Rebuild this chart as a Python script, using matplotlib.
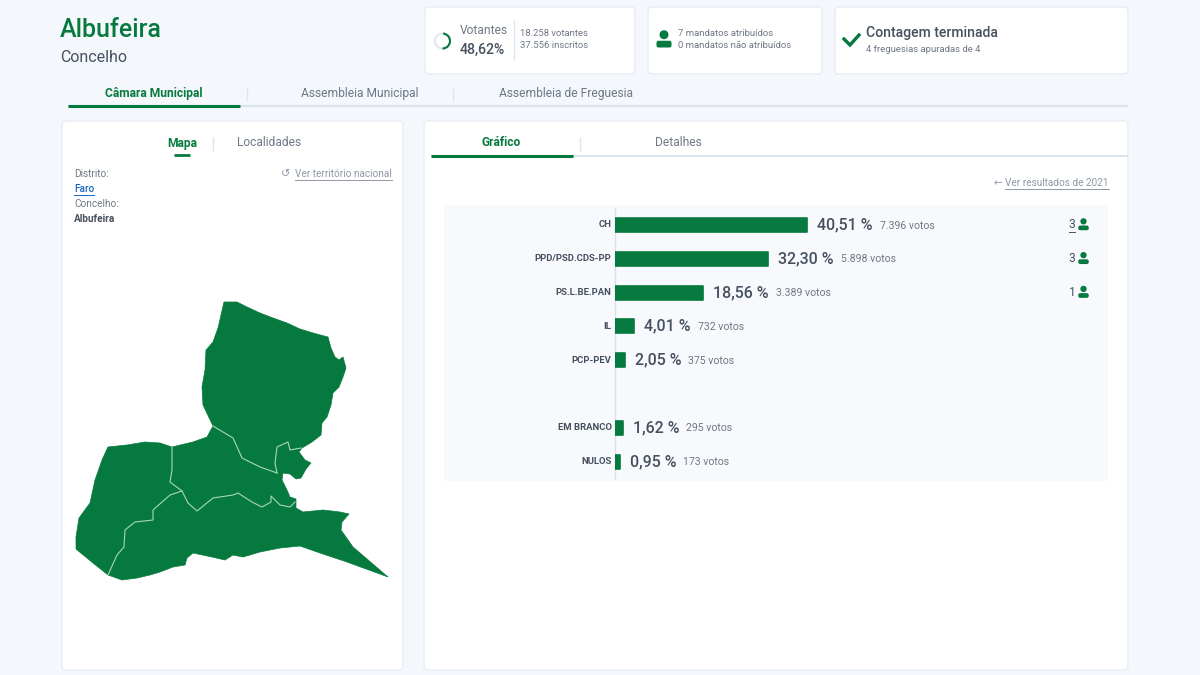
# Resultados autarquicos - Albufeira, dashboard view

import matplotlib
matplotlib.use('Agg')
import matplotlib.pyplot as plt
from matplotlib.patches import FancyBboxPatch, Polygon, Circle, Arc

plt.rcParams['font.family'] = ['Roboto', 'DejaVu Sans']

# ------------------------------------------------------------
# data
# ------------------------------------------------------------
parties = ['CH', 'PPD/PSD.CDS-PP', 'PS.L.BE.PAN', 'IL', 'PCP-PEV', 'EM BRANCO', 'NULOS']
rows = [0, 1, 2, 3, 4, 6, 7]
percents = [40.51, 32.30, 18.56, 4.01, 2.05, 1.62, 0.95]
percent_labels = ['40,51 %', '32,30 %', '18,56 %', '4,01 %', '2,05 %', '1,62 %', '0,95 %']
vote_labels = ['7.396 votos', '5.898 votos', '3.389 votos', '732 votos', '375 votos', '295 votos', '173 votos']
seats = [3, 3, 1]

# map outline and inner borders, in pixels of the picture
map_outline = [
    (224, 302), (237, 302), (247, 307), (260, 313), (273, 318), (287, 323), (300, 329),
    (313, 333), (328, 337), (331, 348), (335, 357), (339, 360), (343, 357), (346, 368),
    (343, 377), (339, 387), (333, 393), (331, 405), (327, 417), (322, 423), (321, 435),
    (312, 442), (302, 448), (299, 452), (305, 460), (311, 463), (306, 469), (301, 478),
    (296, 479), (290, 474), (283, 473), (282, 480), (287, 490), (290, 497), (296, 499),
    (296, 508), (303, 512), (323, 510), (340, 512), (349, 514), (342, 522), (341, 530),
    (353, 547), (388, 577), (347, 562), (320, 553), (300, 546), (280, 548), (260, 552),
    (243, 557), (233, 555), (225, 560), (212, 557), (193, 553), (187, 558), (185, 565),
    (173, 567), (160, 572), (150, 575), (137, 578), (122, 580), (108, 575), (93, 563),
    (76, 549), (76, 537), (79, 518), (90, 503), (95, 480), (102, 460), (108, 447),
    (127, 445), (145, 442), (160, 443), (172, 447), (193, 442), (207, 437), (213, 426),
    (203, 405), (202, 387), (205, 370), (206, 350), (213, 342), (218, 328),
]
border_a = [(213, 426), (223, 432), (233, 438), (242, 458), (260, 467), (277, 473)]
border_b = [(277, 473), (275, 463), (277, 447), (288, 442), (290, 450), (301, 448)]
border_c = [
    (172, 447), (172, 470), (170, 482), (182, 491), (188, 503), (197, 511), (213, 498),
    (233, 495), (238, 493), (252, 502), (262, 507), (271, 502), (271, 496), (280, 505),
    (290, 507), (295, 502),
]
border_d = [
    (182, 491), (170, 495), (153, 510), (153, 520), (135, 522), (125, 530), (124, 547),
    (117, 555), (108, 575),
]

GREEN = '#067a3e'
DARK = '#46505f'
GREY = '#6f7886'
LINE = '#dfe5ec'

# ------------------------------------------------------------
# page, in pixel coordinates
# ------------------------------------------------------------
fig = plt.figure(figsize=(12, 6.75), dpi=100, facecolor='#f4f8fc')
page = fig.add_axes([0, 0, 1, 1])
page.set_xlim(0, 1200)
page.set_ylim(675, 0)
page.axis('off')


def label(x, y, s, size, color=DARK, weight='normal', ha='left', underline=False):
    txt = page.text(x, y, s, fontsize=size * 0.72, color=color, fontweight=weight, ha=ha, va='center')
    if underline:
        box = txt.get_window_extent(fig.canvas.get_renderer())
        page.plot([box.x0, box.x1], [y + size * 0.58] * 2, color=color, lw=0.7)
    return txt


def card(x0, y0, x1, y1):
    page.add_patch(FancyBboxPatch((x0, y0), x1 - x0, y1 - y0, boxstyle='round,pad=0,rounding_size=4',
                                  fc='white', ec='#e8edf3', lw=1))


def rule(x0, y0, x1, y1, color=LINE, lw=1.0):
    page.plot([x0, x1], [y0, y1], color=color, lw=lw, solid_capstyle='butt')


def person(x, y, s=1.0):
    page.add_patch(Circle((x, y - 3.5 * s), 3 * s, fc=GREEN, ec='none'))
    page.add_patch(FancyBboxPatch((x - 5 * s, y + 0.5 * s), 10 * s, 4.5 * s,
                                  boxstyle='round,pad=0,rounding_size=2', fc=GREEN, ec='none'))


# header
label(60, 30, 'Albufeira', 25, GREEN, 'medium')
label(60, 58, 'Concelho', 16, DARK)

card(425, 7, 635, 74)
card(648, 7, 822, 74)
card(835, 7, 1128, 74)

page.add_patch(Circle((442.5, 41), 7.5, fc='none', ec='#e3e8ee', lw=1.5))
page.add_patch(Arc((442.5, 41), 15, 15, theta1=-85, theta2=90, color=GREEN, lw=1.5))
label(460, 31, 'Votantes', 12, GREY)
label(460, 50, '48,62%', 14, DARK, 'medium')
rule(513.5, 20, 513.5, 60)
label(520, 33, '18.258 votantes', 9.5, GREY)
label(520, 45, '37.556 inscritos', 9.5, GREY)

person(664, 40, 1.5)
label(678, 33, '7 mandatos atribuídos', 9.5, GREY)
label(678, 45, '0 mandatos não atribuídos', 9.5, GREY)

page.plot([844, 850, 859], [39, 45, 35], color=GREEN, lw=2.4, solid_joinstyle='miter')
label(866, 33, 'Contagem terminada', 14, DARK, 'medium')
label(866, 50, '4 freguesias apuradas de 4', 9.5, GREY)

# top tabs
rule(68, 105.5, 1128, 105.5, '#dde3ea', 1.6)
rule(68, 105.5, 240, 105.5, GREEN, 2.2)
rule(247, 87, 247, 101)
rule(453, 87, 453, 101)
label(153.5, 93, 'Câmara Municipal', 12, GREEN, 'bold', 'center')
label(359.5, 93, 'Assembleia Municipal', 12, GREY, ha='center')
label(566, 93, 'Assembleia de Freguesia', 12, GREY, ha='center')

# left panel
card(62, 121, 403, 670)
label(182, 143, 'Mapa', 12, GREEN, 'bold', 'center')
rule(174, 155, 190, 155, GREEN, 2)
rule(212.5, 137, 212.5, 151)
label(269.5, 143, 'Localidades', 12, GREY, ha='center')
label(74, 174, 'Distrito:', 10, GREY)
label(74, 189.5, 'Faro', 10, '#1a66c2', 'medium', underline=True)
label(74, 204, 'Concelho:', 10, GREY)
label(74, 219, 'Albufeira', 10, DARK, 'bold')
page.text(281, 174, '↺', fontsize=8, color='#8f98a5', ha='left', va='center', family='DejaVu Sans')
label(295, 174, 'Ver território nacional', 10, '#8f98a5', underline=True)

page.add_patch(Polygon(map_outline, closed=True, fc=GREEN, ec=GREEN, lw=0.5))
for border in [border_a, border_b, border_c, border_d]:
    page.plot([p[0] for p in border], [p[1] for p in border], color='#a9d6b6', lw=0.8)

# right panel
card(424, 121, 1128, 670)
rule(431, 155.5, 1128, 155.5, '#dde3ea', 1.4)
rule(431, 155.5, 573, 155.5, GREEN, 2.2)
rule(580, 137, 580, 151)
label(501.5, 143, 'Gráfico', 12, GREEN, 'bold', 'center')
label(678, 143, 'Detalhes', 12, GREY, ha='center')
page.text(994, 183.5, '←', fontsize=7.5, color='#8f98a5', ha='left', va='center', family='DejaVu Sans')
label(1005, 183.5, 'Ver resultados de 2021', 10, '#8f98a5', underline=True)

page.add_patch(FancyBboxPatch((444, 205), 664, 276, boxstyle='round,pad=0,rounding_size=2',
                              fc='#f7f9fc', ec='none'))
rule(614.5, 207, 614.5, 479, '#d8dfe6', 1.0)

# ------------------------------------------------------------
# bars, in their own axes: x is percent, y is row number
# ------------------------------------------------------------
PX_PER_PERCENT = 4.75
PX_PER_ROW = 33.8
left, right, top, bottom = 615, 1100, 208, 479

ax = fig.add_axes([left / 1200, 1 - bottom / 675, (right - left) / 1200, (bottom - top) / 675])
ax.patch.set_alpha(0)
ax.axis('off')
ax.set_xlim(0, (right - left) / PX_PER_PERCENT)
ax.set_ylim((bottom - 225) / PX_PER_ROW, (top - 225) / PX_PER_ROW)

ax.barh(rows, percents, height=14 / PX_PER_ROW, color=GREEN, edgecolor=GREEN, linewidth=1.2,
        joinstyle='round')

for row, name, pct, pct_label, votes in zip(rows, parties, percents, percent_labels, vote_labels):
    ax.annotate(name, (0, row), xytext=(-3.5 * 0.72, 0), textcoords='offset points',
                ha='right', va='center', fontsize=9.5 * 0.72, color=DARK, fontweight='bold')
    pct_text = ax.annotate(pct_label, (pct, row), xytext=(10 * 0.72, 0), textcoords='offset points',
                           ha='left', va='center', fontsize=16 * 0.72, color=DARK, fontweight='medium')
    ax.annotate(votes, (1, 0.5), xycoords=pct_text, xytext=(7 * 0.72, -0.5), textcoords='offset points',
                ha='left', va='center', fontsize=10.5 * 0.72, color=GREY)

for row, count in zip(rows, seats):
    y = 225 + row * PX_PER_ROW
    label(1072, y, str(count), 12, DARK, ha='center', underline=(row == 0))
    person(1083.5, y, 1.05)

fig.savefig('out.png', dpi=100)
